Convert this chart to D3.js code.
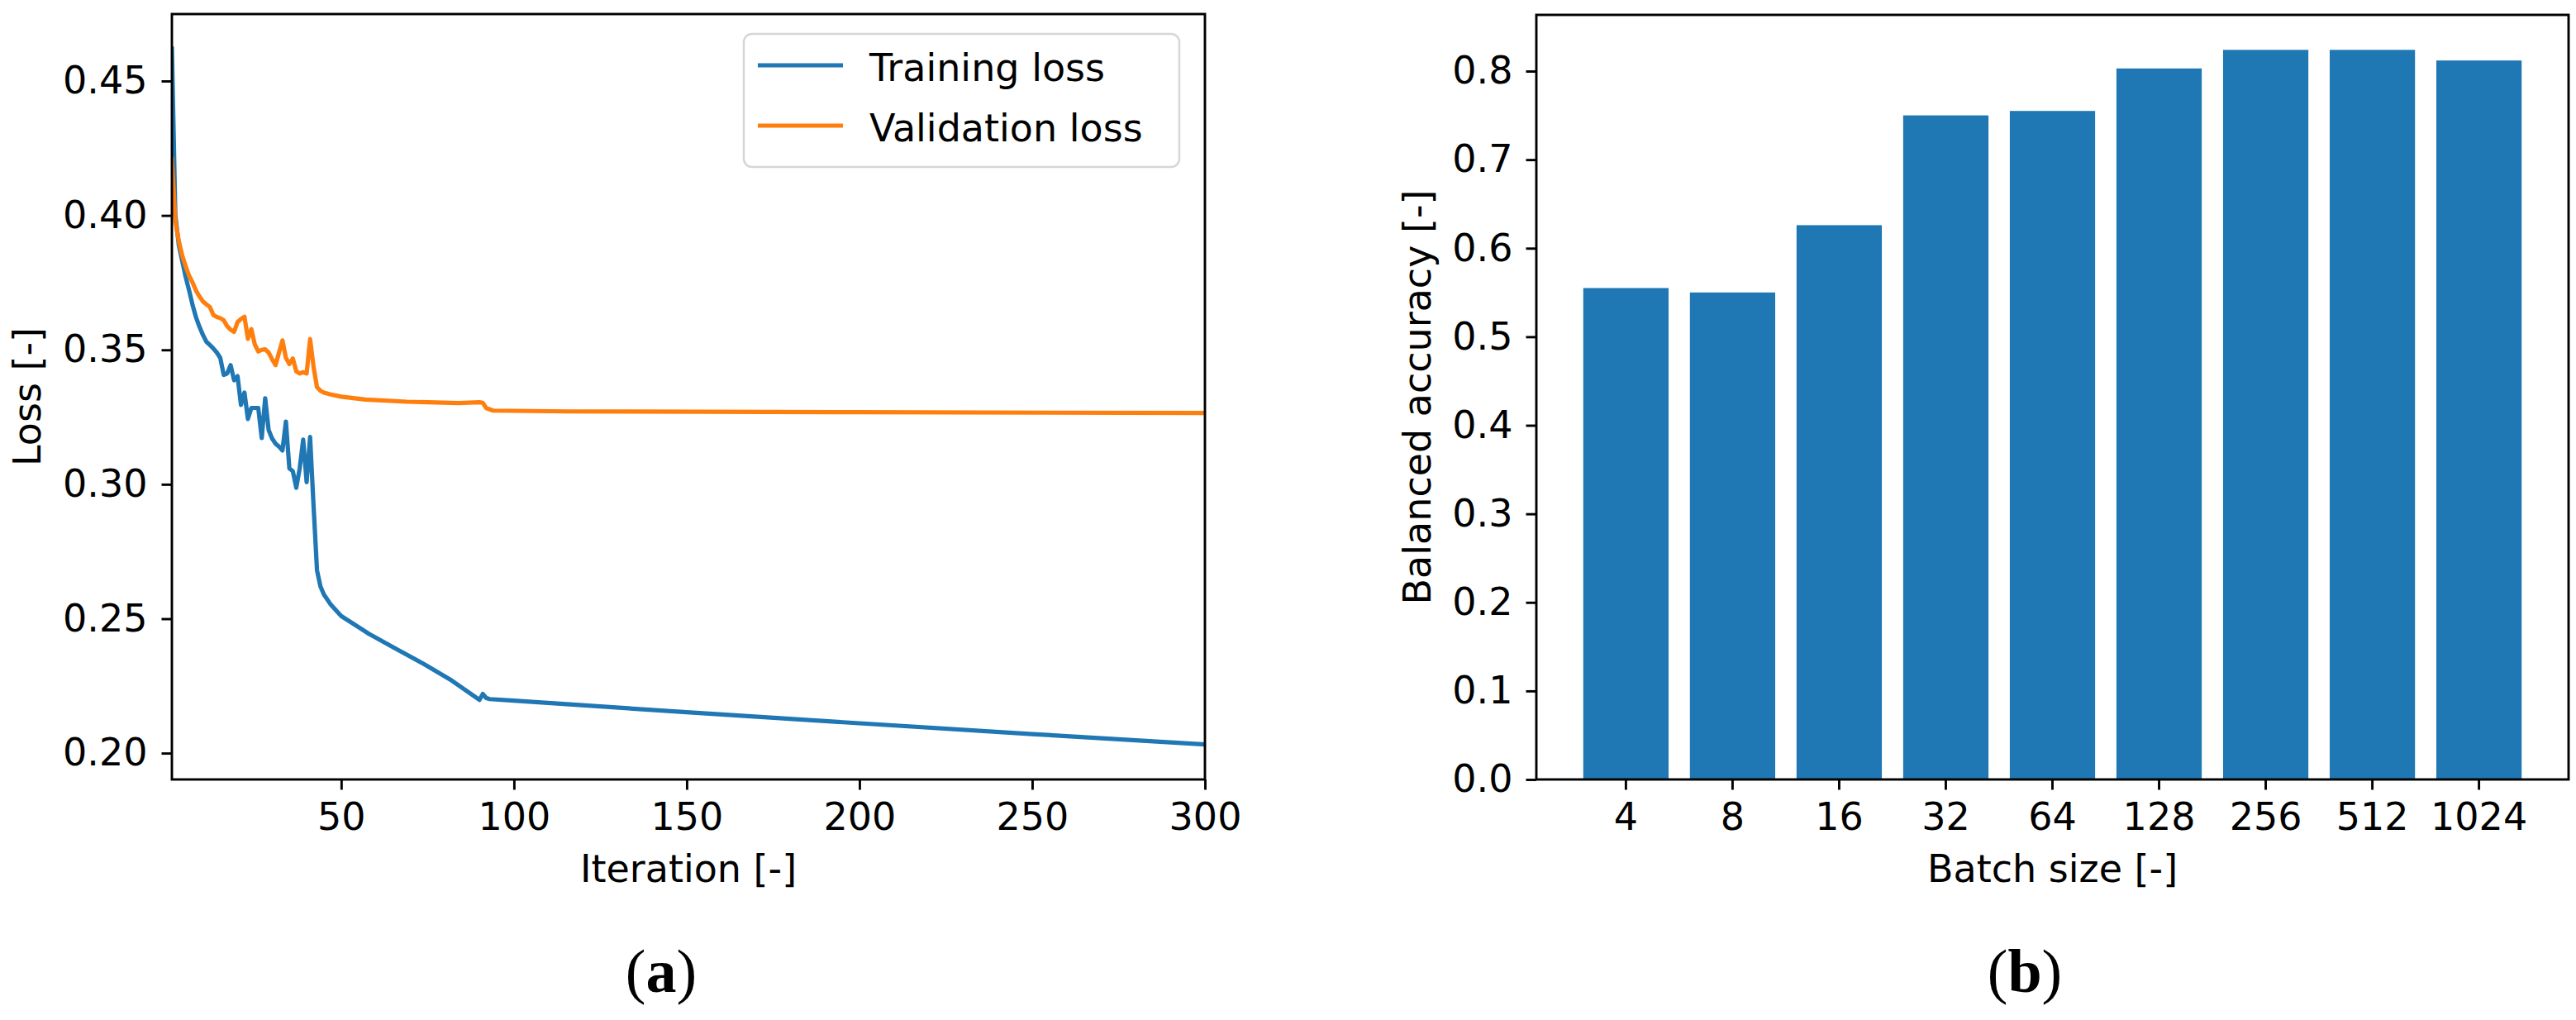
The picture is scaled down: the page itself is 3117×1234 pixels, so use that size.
<!DOCTYPE html>
<html>
<head>
<meta charset="utf-8">
<script src="https://cdn.jsdelivr.net/npm/d3@7"></script>
<style>
  html, body { margin: 0; padding: 0; background: #ffffff; }
  svg { display: block; }
  text { font-family: "DejaVu Sans", sans-serif; fill: #000; }
</style>
</head>
<body>
<svg id="chart" width="3117" height="1234"></svg>
<script>
// ---------- Data ----------
// Panel (a): loss curves (iteration, value)
const trainIter = [1,2,3,4,5,6,7,8,9,10,11,12,13,14,15,16,17,18,19,20,21,22,23,24,25,26,27,28,29,30,31,32,33,34,35,36,37,38,39,40,41,42,43,44,45,47,50,58,66,74,82,90,91,92,93,100,150,200,250,300];
const trainLoss = [0.462,0.400,0.389,0.383,0.377,0.372,0.3666,0.362,0.3585,0.3555,0.353,0.3518,0.3505,0.349,0.347,0.3407,0.3412,0.3443,0.3387,0.3402,0.3295,0.3341,0.3243,0.3284,0.3284,0.3284,0.3172,0.332,0.3202,0.317,0.3151,0.314,0.3126,0.3233,0.3059,0.3049,0.2987,0.306,0.3166,0.3008,0.3176,0.292,0.268,0.262,0.259,0.2552,0.251,0.2444,0.2387,0.2331,0.227,0.2198,0.222,0.2205,0.2201,0.2195,0.2152,0.2111,0.2071,0.2032];

const valIter = [1,2,3,4,5,6,7,8,9,10,11,12,13,14,15,16,17,18,19,20,21,22,23,24,25,26,27,28,29,30,31,32,33,34,35,36,37,38,39,40,41,42,43,44,45,47,50,57,69,84,90,91,92,94,116,200,300];
const valLoss = [0.421,0.398,0.3905,0.385,0.381,0.3775,0.375,0.372,0.3698,0.368,0.3669,0.3659,0.363,0.3622,0.3618,0.361,0.3588,0.3575,0.3567,0.3603,0.3615,0.3623,0.3541,0.3577,0.352,0.3494,0.35,0.3502,0.349,0.3465,0.3443,0.349,0.3535,0.347,0.3447,0.3468,0.342,0.3412,0.3417,0.3412,0.354,0.3437,0.3361,0.3348,0.3341,0.3334,0.3326,0.3315,0.3307,0.3302,0.3305,0.3303,0.3283,0.3274,0.3271,0.3268,0.3265];

const seriesNames = ["Training loss", "Validation loss"];
const seriesColors = ["#1f77b4", "#ff7f0e"];

const lossTicks = [0.20, 0.25, 0.30, 0.35, 0.40, 0.45];
const iterTicks = [50, 100, 150, 200, 250, 300];

// Panel (b): balanced accuracy per batch size
const batchSizes = ["4","8","16","32","64","128","256","512","1024"];
const accuracy = [0.555, 0.550, 0.626, 0.750, 0.755, 0.803, 0.824, 0.824, 0.812];
const accTicks = [0.0, 0.1, 0.2, 0.3, 0.4, 0.5, 0.6, 0.7, 0.8];

const panelLabels = ["a", "b"];

// ---------- Drawing ----------
const svg = d3.select("#chart");
const FS = 46;
const SPINE = 2.9;
const TICKLEN = 12.5;

function styleAxis(g) {
  g.select(".domain").remove();
  g.selectAll(".tick line").attr("stroke", "#000").attr("stroke-width", SPINE);
  g.selectAll(".tick text").style("font-size", FS + "px").attr("fill", "#000");
}

// ----- Panel (a) -----
const A = {left: 208, right: 1458, top: 17, bottom: 943};
const xA = d3.scaleLinear().domain([1, 300]).range([A.left, A.right]);
const yA = d3.scaleLinear().domain([0.1902, 0.4749]).range([A.bottom, A.top]);

const gA = svg.append("g");
const clipA = svg.append("clipPath").attr("id", "clipA")
  .append("rect").attr("x", A.left).attr("y", A.top)
  .attr("width", A.right - A.left).attr("height", A.bottom - A.top);

const line = d3.line().x(d => xA(d[0])).y(d => yA(d[1]));
const series = [
  trainIter.map((t, i) => [t, trainLoss[i]]),
  valIter.map((t, i) => [t, valLoss[i]])
];
series.forEach((s, i) => {
  gA.append("path").datum(s)
    .attr("clip-path", "url(#clipA)")
    .attr("fill", "none")
    .attr("stroke", seriesColors[i])
    .attr("stroke-width", 5.2)
    .attr("stroke-linejoin", "round")
    .attr("stroke-linecap", "square")
    .attr("d", line);
});

const axA_x = gA.append("g").attr("transform", `translate(0,${A.bottom})`)
  .call(d3.axisBottom(xA).tickValues(iterTicks).tickFormat(d3.format("d"))
    .tickSize(TICKLEN).tickPadding(15.5).tickSizeOuter(0));
styleAxis(axA_x);
const axA_y = gA.append("g").attr("transform", `translate(${A.left},0)`)
  .call(d3.axisLeft(yA).tickValues(lossTicks).tickFormat(d3.format(".2f"))
    .tickSize(TICKLEN).tickPadding(17).tickSizeOuter(0));
styleAxis(axA_y);

gA.append("rect").attr("x", A.left).attr("y", A.top)
  .attr("width", A.right - A.left).attr("height", A.bottom - A.top)
  .attr("fill", "none").attr("stroke", "#000").attr("stroke-width", SPINE);

gA.append("text").attr("x", (A.left + A.right) / 2).attr("y", 1067)
  .attr("text-anchor", "middle").style("font-size", FS + "px").text("Iteration [-]");
gA.append("text").attr("transform", `translate(49,${(A.top + A.bottom) / 2}) rotate(-90)`)
  .attr("text-anchor", "middle").style("font-size", FS + "px").text("Loss [-]");

// legend
const leg = gA.append("g");
leg.append("rect").attr("x", 900).attr("y", 41).attr("width", 527).attr("height", 161)
  .attr("rx", 10).attr("fill", "#fff").attr("fill-opacity", 0.8)
  .attr("stroke", "#d6d6d6").attr("stroke-width", 2.5);
seriesNames.forEach((n, i) => {
  const yy = 79 + i * 73;
  leg.append("line").attr("x1", 917).attr("x2", 1020).attr("y1", yy).attr("y2", yy)
    .attr("stroke", seriesColors[i]).attr("stroke-width", 5.2);
  leg.append("text").attr("x", 1052).attr("y", yy + 19)
    .style("font-size", FS + "px").text(n);
});

// ----- Panel (b) -----
const B = {left: 1859, right: 3108, top: 18, bottom: 943};
const xB = d3.scaleBand().domain(batchSizes).range([B.left, B.right])
  .paddingInner(0.2).paddingOuter(0.44);
const yB = d3.scaleLinear().domain([0, 0.8635]).range([B.bottom, B.top]);
const gB = svg.append("g");

gB.selectAll("rect.bar").data(batchSizes).enter().append("rect")
  .attr("class", "bar")
  .attr("x", d => xB(d))
  .attr("width", xB.bandwidth())
  .attr("y", (d, i) => yB(accuracy[i]))
  .attr("height", (d, i) => yB(0) - yB(accuracy[i]))
  .attr("fill", "#1f77b4");

const axB_x = gB.append("g").attr("transform", `translate(0,${B.bottom})`)
  .call(d3.axisBottom(xB).tickSize(TICKLEN).tickPadding(15.5).tickSizeOuter(0));
styleAxis(axB_x);
const axB_y = gB.append("g").attr("transform", `translate(${B.left},0)`)
  .call(d3.axisLeft(yB).tickValues(accTicks).tickFormat(d3.format(".1f"))
    .tickSize(TICKLEN).tickPadding(16).tickSizeOuter(0));
styleAxis(axB_y);

gB.append("rect").attr("x", B.left).attr("y", B.top)
  .attr("width", B.right - B.left).attr("height", B.bottom - B.top)
  .attr("fill", "none").attr("stroke", "#000").attr("stroke-width", SPINE);

gB.append("text").attr("x", (B.left + B.right) / 2).attr("y", 1067)
  .attr("text-anchor", "middle").style("font-size", FS + "px").text("Batch size [-]");
gB.append("text").attr("transform", `translate(1731,${(B.top + B.bottom) / 2}) rotate(-90)`)
  .attr("text-anchor", "middle").style("font-size", FS + "px").text("Balanced accuracy [-]");

// ----- panel labels -----
[800, 2450].forEach((cx, i) => {
  const t = svg.append("text").attr("x", cx).attr("y", 1200).attr("text-anchor", "middle")
    .style("font-family", "'Liberation Serif', 'DejaVu Serif', serif").style("font-size", "74px");
  t.append("tspan").text("(");
  t.append("tspan").style("font-weight", "bold").text(panelLabels[i]);
  t.append("tspan").text(")");
});
</script>
</body>
</html>
